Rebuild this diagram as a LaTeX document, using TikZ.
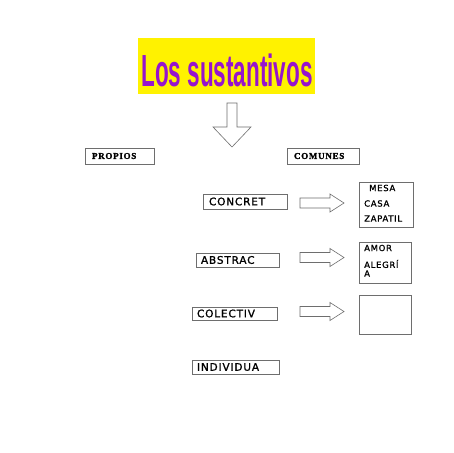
\documentclass[tikz,border=0pt]{standalone}
\usepackage{fontspec}
\setmainfont{DejaVu Sans}
\newfontfamily\boxfont[LetterSpace=8,FakeBold=1.2]{DejaVu Sans}
\newfontfamily\smallfont[LetterSpace=8,FakeBold=1.2]{DejaVu Sans}
\newfontfamily\serifbold[LetterSpace=8,BoldFeatures={FakeBold=1.5}]{Liberation Serif}
\newfontfamily\titlefont{Liberation Sans}
\definecolor{titlepurple}{RGB}{150,20,205}
\definecolor{boxgray}{RGB}{110,110,110}
\begin{document}
\begin{tikzpicture}[x=1pt,y=-1pt,
  lblbox/.style={draw=boxgray, line width=0.6pt, inner xsep=5pt, inner ysep=0pt, align=left, font=\boxfont\fontsize{10.5}{11}\selectfont},
  topbox/.style={draw=boxgray, line width=0.6pt, inner xsep=7pt, inner ysep=0pt, align=left, font=\serifbold\bfseries\fontsize{9}{9}\selectfont},
  listbox/.style={draw=boxgray, line width=0.6pt, inner sep=0pt},
  itemtxt/.style={anchor=west, inner sep=0pt, font=\smallfont\fontsize{8.5}{8}\selectfont},
  blockarrow/.style={draw=boxgray, line width=0.6pt, fill=white}]
\useasboundingbox (0,0) rectangle (453,453);
\fill[white] (0,0) rectangle (453,453);
% title
\fill[yellow] (138,38) rectangle (315,94);
\node[text=titlepurple, inner sep=0pt] (title) at (227,70) {\titlefont\bfseries\fontsize{30}{30}\selectfont\scalebox{0.75}[1.5]{Los sustantivos}};
% down arrow
\coordinate (dtop) at (232,103);
\draw[blockarrow] (dtop) ++(-5,0) -- ++(0,24) -- ++(-14,0) -- ++(19,20) -- ++(19,-20) -- ++(-14,0) -- ++(0,-24) -- cycle;
% top boxes
\node[topbox, minimum width=69pt, minimum height=16pt, text width=55pt] (propios) at (119.5,156) {PROPIOS};
\node[topbox, minimum width=72pt, minimum height=16pt, text width=58pt] (comunes) at (323,156) {COMUNES};
% left boxes
\node[lblbox, minimum width=84pt, minimum height=15pt, text width=74pt] (concret) at (245,201.5) {\hspace*{1pt}CONCRET};
\node[lblbox, minimum width=83pt, minimum height=14pt, text width=73pt] (abstrac) at (237.5,260) {ABSTRAC};
\node[lblbox, minimum width=85pt, minimum height=13pt, text width=75pt] (colectiv) at (234.5,313.5) {COLECTIV};
\node[lblbox, minimum width=87pt, minimum height=14pt, text width=77pt] (individua) at (235.5,367) {INDIVIDUA};
% right boxes
\node[listbox, minimum width=54pt, minimum height=45pt] (mesabox) at (386,204.5) {};
\node[listbox, minimum width=52pt, minimum height=41pt] (amorbox) at (385,262.5) {};
\node[listbox, minimum width=52pt, minimum height=39pt] (emptybox) at (385,314.5) {};
\node[itemtxt] (mesa) at (369,188) {MESA};
\node[itemtxt] (casa) at (364,203.5) {CASA};
\node[itemtxt] (zapatil) at (364,218.5) {ZAPATIL};
\node[itemtxt] (amor) at (364,248) {AMOR};
\node[itemtxt] (alegri) at (364,264) {ALEGRÍ};
\node[itemtxt] (alegria) at (364,273.5) {A};
% right arrows
\coordinate (ra1) at (300,203);
\coordinate (ra2) at (300,257.5);
\coordinate (ra3) at (300,311.5);
\foreach \c in {ra1,ra2,ra3}{
  \draw[blockarrow] (\c) ++(0,-5) -- ++(30,0) -- ++(0,-4) -- ++(14,9) -- ++(-14,9) -- ++(0,-4) -- ++(-30,0) -- cycle;
}
\end{tikzpicture}
\end{document}
